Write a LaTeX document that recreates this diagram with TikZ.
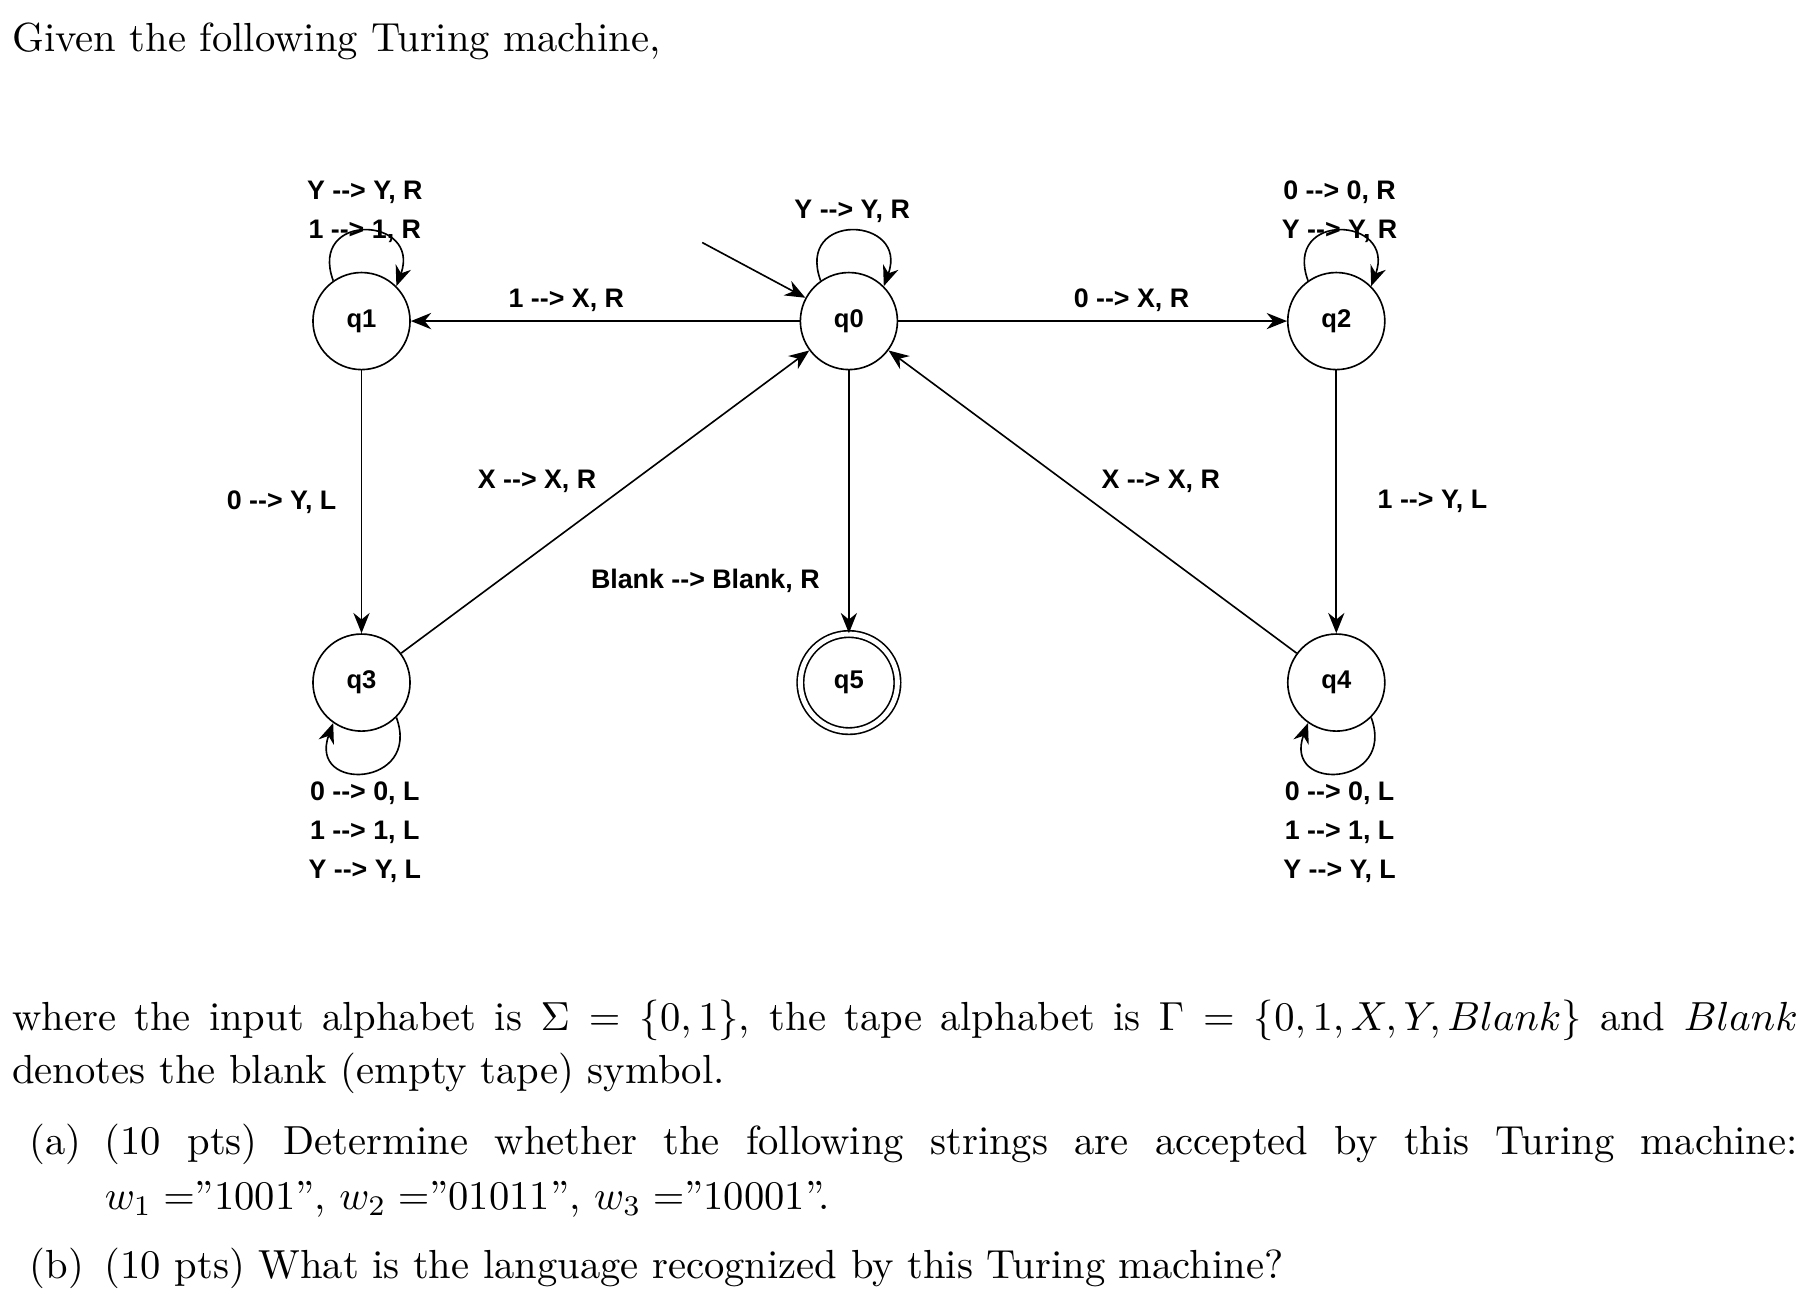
\documentclass[tikz,border=0pt]{standalone}
\usepackage{fontspec}
\newfontfamily\lblfont{Liberation Sans}
\usetikzlibrary{positioning,arrows.meta}
\tikzset{%
  state/.style  = {draw, circle, minimum size=0.84cm, inner sep=0pt,
    font=\lblfont\bfseries\fontsize{6.3}{7.5}\selectfont},
  accept/.style = {state, double, double distance=1.2pt},
  lbl/.style    = {font=\lblfont\bfseries\fontsize{6.6}{9.6}\selectfont,
    align=center, inner sep=2pt},
  txt/.style    = {anchor=base west, inner sep=0pt,
    font=\fontsize{10}{12}\selectfont},
  trans/.style  = {->, >={Stealth[length=5pt,width=4pt]}, thin}
}
\begin{document}
\begin{tikzpicture}[x=0.01cm, y=-0.01cm]
  \useasboundingbox (0,0) rectangle (1568,1131);

  % states
  \node[state]  (q0) at (735,278) {q0};
  \node[state]  (q1) at (313,278) {q1};
  \node[state]  (q2) at (1157,278) {q2};
  \node[state]  (q3) at (313,591) {q3};
  \node[accept] (q5) at (735,591) {q5};
  \node[state]  (q4) at (1157,591) {q4};
  \coordinate (start) at (608,210);

  % transitions
  \draw[trans] (start) -- (q0);
  \draw[trans] (q0) -- node[lbl, above, pos=.6] {1 --> X, R} (q1);
  \draw[trans] (q0) -- node[lbl, above, pos=.6] {0 --> X, R} (q2);
  \draw[trans] (q1) -- node[lbl, left=4pt] {0 --> Y, L} (q3);
  \draw[trans] (q2) -- node[lbl, right=8pt] {1 --> Y, L} (q4);
  \draw[trans] (q3) -- node[lbl, above left=0pt and 0pt, pos=.5] {X --> X, R} (q0);
  \draw[trans] (q4) -- node[lbl, above right=0pt and 0pt, pos=.5] {X --> X, R} (q0);
  \draw[trans] (q0) -- node[lbl, left=5pt, pos=.8] {Blank --> Blank, R} (q5);

  % loops
  \draw[trans] (q1.125) to[out=110, in=70, looseness=3]
    node[lbl, above=-5pt] {Y --> Y, R\\1 --> 1, R} (q1.45);
  \draw[trans] (q0.125) to[out=110, in=70, looseness=3]
    node[lbl, above=0pt] {Y --> Y, R} (q0.45);
  \draw[trans] (q2.125) to[out=110, in=70, looseness=3]
    node[lbl, above=-5pt] {0 --> 0, R\\Y --> Y, R} (q2.45);
  \draw[trans] (q3.-45) to[out=-70, in=-110, looseness=3]
    node[lbl, below=0pt] {0 --> 0, L\\1 --> 1, L\\Y --> Y, L} (q3.-125);
  \draw[trans] (q4.-45) to[out=-70, in=-110, looseness=3]
    node[lbl, below=0pt] {0 --> 0, L\\1 --> 1, L\\Y --> Y, L} (q4.-125);

  % question text
  \node[txt] (given) at (10,45) {Given the following Turing machine,};
  \node[txt] (where) at (10,892) {\hbox to 15.45cm{where the
    input alphabet is $\Sigma=\{0,1\}$, the tape alphabet is
    $\Gamma=\{0,1,X,Y,Blank\}$ and $Blank$}};
  \node[txt] (denotes) at (10,938) {denotes the blank (empty tape) symbol.};
  \node[txt] (pa) at (25,1000) {(a)};
  \node[txt] (qa) at (90,1000) {\hbox to 14.65cm{(10 pts)
    Determine whether the following strings are accepted by this Turing machine:}};
  \node[txt] (wa) at (90,1047) {$w_1=$''1001'', $w_2=$''01011'', $w_3=$''10001''.};
  \node[txt] (pb) at (25,1107) {(b)};
  \node[txt] (qb) at (90,1107) {(10 pts) What is the language recognized by this Turing machine?};
\end{tikzpicture}
\end{document}
